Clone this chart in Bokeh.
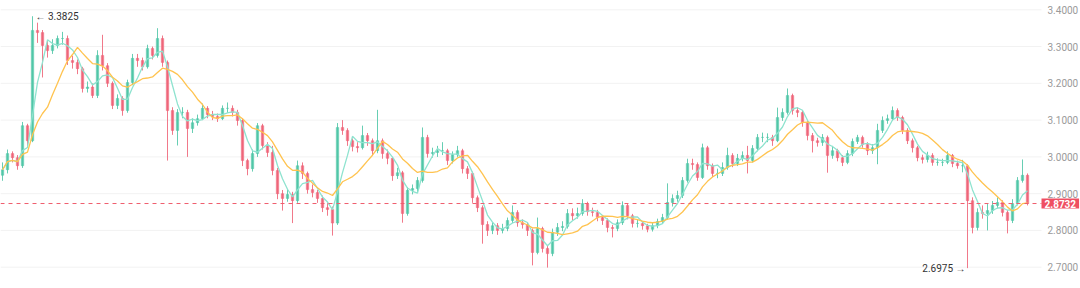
import pandas as pd
from bokeh.plotting import figure
from bokeh.models import Span, Label, ColumnDataSource
from bokeh.core.properties import value
from bokeh.embed import file_html
from bokeh.resources import INLINE

first_open = 2.950
last_price = 2.8732

closes = [
    2.965, 3.009, 2.998, 2.976, 3.085, 3.044, 3.344, 3.338, 3.303, 3.289,
    3.303, 3.322, 3.322, 3.262, 3.257, 3.240, 3.186, 3.190, 3.167, 3.276,
    3.248, 3.200, 3.140, 3.159, 3.126, 3.202, 3.268, 3.262, 3.245, 3.295,
    3.276, 3.322, 3.257, 3.126, 3.072, 3.121, 3.121, 3.077, 3.093, 3.104,
    3.132, 3.115, 3.110, 3.104, 3.132, 3.132, 3.121, 3.099, 2.990, 2.968,
    3.009, 3.085, 3.031, 3.012, 2.963, 2.900, 2.887, 2.898, 2.881, 2.976,
    2.955, 2.911, 2.903, 2.887, 2.862, 2.857, 2.820, 3.080, 3.072, 3.044,
    3.028, 3.025, 3.058, 3.044, 3.017, 3.044, 3.009, 2.996, 2.949, 2.957,
    2.846, 2.909, 2.914, 2.936, 3.053, 3.009, 3.012, 3.017, 3.017, 2.990,
    3.006, 3.017, 2.968, 2.955, 2.889, 2.862, 2.816, 2.800, 2.813, 2.800,
    2.805, 2.827, 2.849, 2.821, 2.816, 2.800, 2.740, 2.805, 2.751, 2.737,
    2.795, 2.808, 2.811, 2.846, 2.840, 2.846, 2.873, 2.851, 2.849, 2.835,
    2.827, 2.808, 2.805, 2.821, 2.868, 2.840, 2.819, 2.819, 2.813, 2.803,
    2.813, 2.824, 2.835, 2.876, 2.887, 2.895, 2.936, 2.982, 2.979, 2.944,
    3.025, 2.976, 2.955, 2.955, 2.971, 3.004, 2.982, 2.996, 3.004, 2.990,
    3.023, 3.053, 3.053, 3.053, 3.044, 3.107, 3.121, 3.167, 3.126, 3.121,
    3.093, 3.058, 3.044, 3.039, 3.053, 3.004, 3.017, 2.998, 2.985, 3.009,
    3.042, 3.053, 3.034, 3.017, 3.025, 3.072, 3.099, 3.104, 3.126, 3.107,
    3.072, 3.044, 3.025, 2.998, 2.993, 3.004, 2.985, 2.985, 2.985, 3.004,
    2.982, 2.976, 2.976, 2.881, 2.808, 2.849, 2.846, 2.854, 2.868, 2.876,
    2.849, 2.827, 2.873, 2.936, 2.950, 2.8732,
]

highs = [
    2.985, 3.020, 3.015, 3.005, 3.095, 3.090, 3.3825, 3.365, 3.345, 3.315,
    3.320, 3.330, 3.340, 3.330, 3.275, 3.265, 3.245, 3.205, 3.200, 3.290,
    3.332, 3.255, 3.205, 3.170, 3.165, 3.210, 3.280, 3.280, 3.270, 3.305,
    3.300, 3.350, 3.330, 3.262, 3.135, 3.130, 3.135, 3.128, 3.105, 3.115,
    3.145, 3.138, 3.125, 3.118, 3.140, 3.148, 3.140, 3.128, 3.105, 2.995,
    3.020, 3.092, 3.090, 3.040, 3.030, 2.970, 2.910, 2.912, 2.905, 2.990,
    2.985, 2.960, 2.925, 2.910, 2.895, 2.875, 2.865, 3.092, 3.100, 3.078,
    3.050, 3.040, 3.085, 3.065, 3.050, 3.128, 3.050, 3.020, 3.000, 2.970,
    2.962, 2.918, 2.925, 2.945, 3.080, 3.060, 3.025, 3.030, 3.040, 3.022,
    3.015, 3.030, 3.022, 2.975, 2.960, 2.895, 2.868, 2.825, 2.822, 2.820,
    2.818, 2.835, 2.868, 2.855, 2.830, 2.822, 2.805, 2.835, 2.810, 2.760,
    2.805, 2.820, 2.825, 2.858, 2.860, 2.862, 2.885, 2.878, 2.862, 2.856,
    2.842, 2.833, 2.815, 2.830, 2.879, 2.872, 2.845, 2.830, 2.825, 2.818,
    2.822, 2.832, 2.845, 2.928, 2.898, 2.908, 2.945, 2.995, 2.995, 2.985,
    3.036, 3.030, 2.982, 2.968, 2.985, 3.025, 3.010, 3.008, 3.015, 3.030,
    3.032, 3.062, 3.066, 3.064, 3.060, 3.134, 3.132, 3.186, 3.172, 3.135,
    3.126, 3.098, 3.065, 3.052, 3.062, 3.058, 3.030, 3.022, 3.005, 3.018,
    3.050, 3.060, 3.058, 3.040, 3.035, 3.090, 3.110, 3.115, 3.137, 3.132,
    3.112, 3.078, 3.050, 3.030, 3.006, 3.014, 3.010, 2.996, 2.995, 3.015,
    3.008, 2.990, 2.992, 2.980, 2.890, 2.860, 2.868, 2.872, 2.880, 2.890,
    2.882, 2.855, 2.885, 2.945, 2.993, 2.955,
]

lows = [
    2.935, 2.955, 2.985, 2.965, 2.970, 3.030, 3.040, 3.310, 3.216, 3.270,
    3.280, 3.295, 3.305, 3.250, 3.240, 3.225, 3.175, 3.175, 3.160, 3.160,
    3.235, 3.190, 3.130, 3.130, 3.112, 3.120, 3.195, 3.245, 3.235, 3.240,
    3.265, 3.270, 3.245, 2.990, 3.060, 3.031, 3.105, 3.000, 3.065, 3.085,
    3.100, 3.105, 3.100, 3.095, 3.100, 3.120, 3.110, 3.085, 2.975, 2.950,
    2.960, 3.000, 3.020, 3.000, 2.950, 2.885, 2.854, 2.878, 2.820, 2.875,
    2.940, 2.900, 2.890, 2.875, 2.850, 2.840, 2.786, 2.815, 3.060, 3.030,
    3.015, 3.012, 3.020, 3.030, 3.005, 3.010, 2.995, 2.980, 2.935, 2.940,
    2.821, 2.840, 2.898, 2.905, 2.930, 2.998, 2.998, 3.000, 3.005, 2.978,
    2.982, 3.000, 2.955, 2.940, 2.875, 2.850, 2.764, 2.785, 2.790, 2.788,
    2.792, 2.798, 2.820, 2.810, 2.805, 2.785, 2.705, 2.735, 2.740, 2.699,
    2.730, 2.785, 2.798, 2.805, 2.828, 2.832, 2.840, 2.840, 2.838, 2.825,
    2.815, 2.795, 2.781, 2.798, 2.815, 2.830, 2.808, 2.808, 2.802, 2.795,
    2.797, 2.806, 2.818, 2.830, 2.865, 2.878, 2.888, 2.930, 2.965, 2.935,
    2.940, 2.965, 2.945, 2.942, 2.948, 2.965, 2.972, 2.975, 2.988, 2.955,
    2.985, 3.015, 3.040, 3.040, 3.030, 3.040, 3.098, 3.115, 3.115, 3.108,
    3.082, 3.045, 3.012, 3.028, 3.030, 2.957, 2.995, 2.988, 2.975, 2.980,
    3.002, 3.035, 3.025, 3.005, 3.008, 2.980, 3.065, 3.090, 3.098, 3.098,
    3.062, 3.035, 3.012, 2.988, 2.982, 2.985, 2.976, 2.976, 2.975, 2.980,
    2.972, 2.968, 2.958, 2.6975, 2.792, 2.800, 2.832, 2.800, 2.845, 2.860,
    2.838, 2.792, 2.820, 2.868, 2.930, 2.868,
]

y_ticks = [2.7, 2.8, 2.9, 3.0, 3.1, 3.2, 3.3, 3.4]
y_tick_labels = ["2.7000", "2.8000", "2.9000", "3.0000", "3.1000", "3.2000", "3.3000", "3.4000"]

# ---- derived table ----
opens = [first_open] + closes[:-1]
n = len(closes)
idx = list(range(n))
hi = [max(h, o, c) for h, o, c in zip(highs, opens, closes)]
lo = [min(l, o, c) for l, o, c in zip(lows, opens, closes)]
up_col = "#4cc5a6"
dn_col = "#ef6176"
colors = [up_col if c >= o else dn_col for o, c in zip(opens, closes)]
df = pd.DataFrame(dict(x=idx, o=opens, c=closes, h=hi, l=lo, color=colors,
                       top=[max(o, c) for o, c in zip(opens, closes)],
                       bot=[min(o, c) for o, c in zip(opens, closes)]))
df["fast"] = df["c"].rolling(4, min_periods=1).mean()
df["slow"] = df["c"].rolling(10, min_periods=1).mean()
src = ColumnDataSource(df)

# layout: 5 px per candle, price area ends at ~1041 px, scale column to its right
x_start = -0.4
x_area_end = 207.8          # right edge of price area
x_end = 215.6               # right edge of canvas
x_scale_lbl = 209.0         # left edge of the price-scale labels

p = figure(width=1080, height=288, x_range=(x_start, x_end), y_range=(2.6421, 3.4253),
           output_backend="svg", toolbar_location=None, y_axis_location=None,
           x_axis_location=None, min_border=0)
p.outline_line_color = None
p.background_fill_color = "white"
p.border_fill_color = "white"
p.xgrid.visible = False
p.ygrid.visible = False

grid_src = ColumnDataSource(dict(y=y_ticks, lbl=y_tick_labels,
                                 x0=[x_start] * len(y_ticks), x1=[x_area_end] * len(y_ticks),
                                 xl=[x_scale_lbl] * len(y_ticks)))
p.segment(x0="x0", y0="y", x1="x1", y1="y", source=grid_src, line_color="#f2f2f2", line_width=1)
p.text(x="xl", y="y", text="lbl", source=grid_src, text_font=value("Roboto"),
       text_font_size="10px", text_color="#9a9a9a", text_baseline="middle", text_align="left")

p.segment(x0="x", y0="h", x1="x", y1="l", color="color", line_width=1, source=src, alpha=0.85)
p.vbar(x="x", width=0.5, top="top", bottom="bot", fill_color="color", line_color="color",
       line_width=0.5, source=src, alpha=0.85)
p.line(x="x", y="fast", source=src, line_color="#8ee3cf", line_width=1.3)
p.line(x="x", y="slow", source=src, line_color="#ffc34f", line_width=1.3)

p.segment(x0=[x_start], y0=[last_price], x1=[x_area_end], y1=[last_price],
          line_color="#ef5d6d", line_dash="4 4", line_width=1)
p.add_layout(Label(x=x_area_end, y=last_price, text=f"{last_price:.4f}", text_color="white",
                   text_font="Roboto", text_font_size="10px", text_font_style="bold",
                   text_baseline="middle", text_align="left",
                   background_fill_color="#ef4f62", x_offset=0,
                   padding=dict(left=3, right=3, top=1, bottom=1)))

i_max = max(range(n), key=lambda i: hi[i])
i_min = min(range(n), key=lambda i: lo[i])
p.add_layout(Label(x=i_max, y=hi[i_max], text=f"\u2190 {hi[i_max]:.4f}", text_color="#333333",
                   text_font="Roboto", text_font_size="10px", text_baseline="middle",
                   text_align="left", x_offset=3))
p.add_layout(Label(x=i_min, y=lo[i_min], text=f"{lo[i_min]:.4f} \u2192", text_color="#333333",
                   text_font="Roboto", text_font_size="10px", text_baseline="middle",
                   text_align="right", x_offset=-2))

open("out.html", "w").write(file_html(p, INLINE))
